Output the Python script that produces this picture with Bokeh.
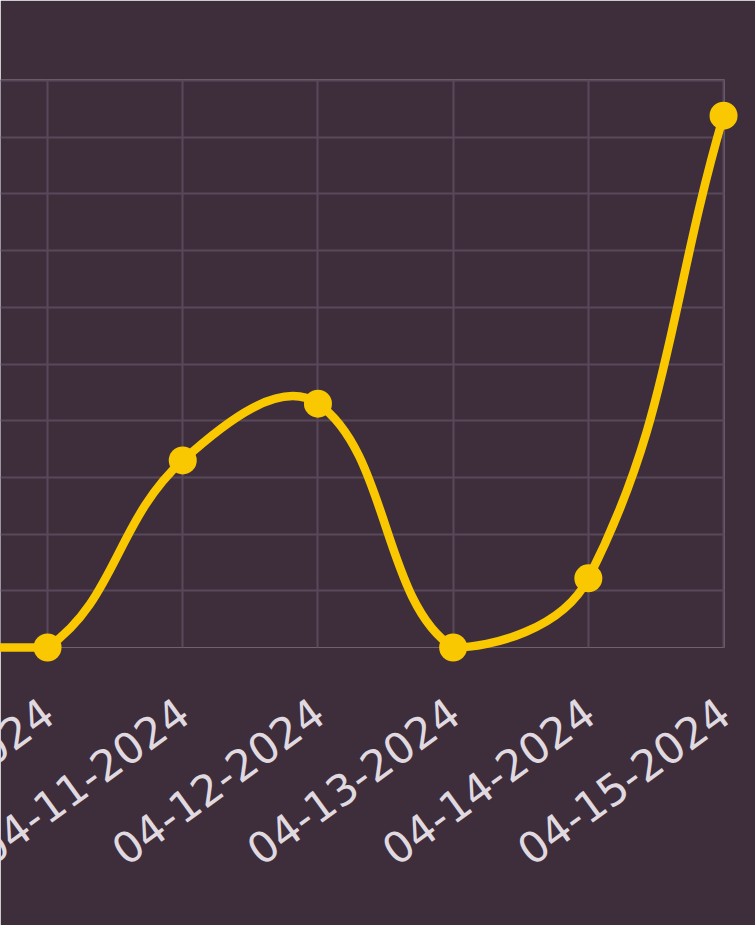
import numpy as np
from bokeh.plotting import figure
from bokeh.models import Range1d, FixedTicker
from bokeh.core.properties import value
from bokeh.embed import file_html
from bokeh.resources import INLINE

# data
dates = ["04-09-2024", "04-10-2024", "04-11-2024", "04-12-2024",
         "04-13-2024", "04-14-2024", "04-15-2024"]
values = [0.0, 0.0, 3.3, 4.3, 0.0, 1.22, 9.38]

BG = "#3e2e3c"
GRID = "#58495a"
GOLD = "#f9c800"

W, H = 755, 925
frame_top, frame_bottom, border_right = 79, 647, 31
x_start, x_end = 0.652, 6.007
y_start, y_end = 0.0, 10.018

x = np.arange(len(dates), dtype=float)
y = np.array(values)

p = figure(width=W, height=H, output_backend="svg", toolbar_location=None,
           x_range=Range1d(x_start, x_end), y_range=Range1d(y_start, y_end),
           min_border_left=0, min_border_right=border_right,
           min_border_top=frame_top, min_border_bottom=H - frame_bottom)
p.background_fill_color = BG
p.border_fill_color = BG
p.outline_line_color = None

# pixel scale of the frame, used for the spline tension (like chart.js)
sx = (W - border_right) / (x_end - x_start)
sy = (frame_bottom - frame_top) / (y_end - y_start)
px, py = x * sx, -y * sy

tension = 0.4
n = len(px)
cp_prev = np.zeros((n, 2))
cp_next = np.zeros((n, 2))
for i in range(n):
    a = i - 1 if i > 0 else i
    c = i + 1 if i < n - 1 else i
    d01 = np.hypot(px[i] - px[a], py[i] - py[a])
    d12 = np.hypot(px[c] - px[i], py[c] - py[i])
    tot = d01 + d12
    s01 = d01 / tot if tot else 0
    s12 = d12 / tot if tot else 0
    dx, dy = px[c] - px[a], py[c] - py[a]
    cp_prev[i] = (px[i] - tension * s01 * dx, py[i] - tension * s01 * dy)
    cp_next[i] = (px[i] + tension * s12 * dx, py[i] + tension * s12 * dy)

# back to data space, control points kept inside the chart area
cpx_prev, cpy_prev = cp_prev[:, 0] / sx, np.clip(-cp_prev[:, 1] / sy, 0, 10)
cpx_next, cpy_next = cp_next[:, 0] / sx, np.clip(-cp_next[:, 1] / sy, 0, 10)

curve = p.bezier(x0=x[:-1], y0=y[:-1], x1=x[1:], y1=y[1:],
                 cx0=cpx_next[:-1], cy0=cpy_next[:-1],
                 cx1=cpx_prev[1:], cy1=cpy_prev[1:],
                 line_color=GOLD, line_width=8.5)
curve.level = "overlay"
dots = p.scatter(x, y, size=28, fill_color=GOLD, line_color=None)
dots.level = "overlay"

# date labels as text so that the ones at the left edge get cut like the original
labels = p.text(x=x, y=np.full(n, y_start), text=dates, angle=0.63,
                x_offset=1, y_offset=60, text_align="right", text_baseline="middle",
                text_font=value("DejaVu Sans"), text_font_size="43px",
                text_color="#e0dae0")
labels.level = "overlay"

p.xaxis.visible = False
p.yaxis.visible = False

p.xgrid.ticker = FixedTicker(ticks=list(x))
p.ygrid.ticker = FixedTicker(ticks=list(range(0, 11)))
p.xgrid.grid_line_color = GRID
p.ygrid.grid_line_color = GRID
p.xgrid.grid_line_width = 2
p.ygrid.grid_line_width = 2

open("out.html", "w").write(file_html(p, INLINE))
